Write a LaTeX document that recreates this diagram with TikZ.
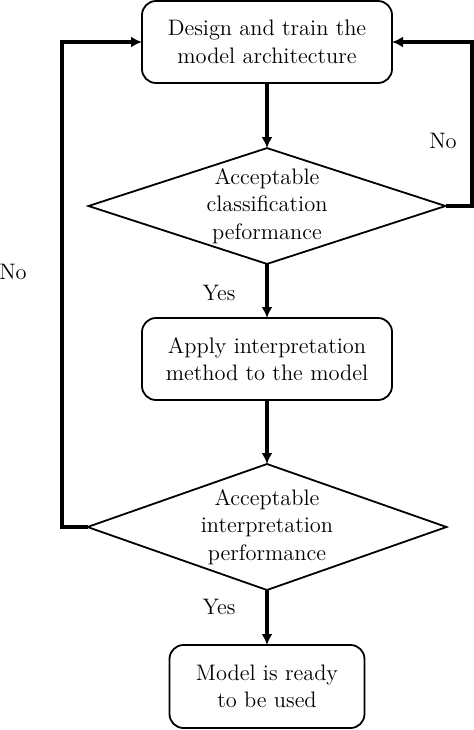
\documentclass[tikz,border=0pt]{standalone}
\usetikzlibrary{shapes.geometric,arrows.meta}
\begin{document}
\begin{tikzpicture}[x=0.5pt,y=-0.5pt,
  every node/.style={font=\fontsize{11.2}{13.8}\selectfont},
  procbox/.style={draw,line width=0.9pt,rounded corners=7pt,align=center,inner sep=0pt,outer sep=0pt,minimum width=125pt,minimum height=41pt},
  decide/.style={draw,diamond,line width=0.9pt,align=center,inner sep=0pt,outer sep=0pt,shape aspect=3},
  conn/.style={line width=1.6pt,-{Latex[length=5.5pt,width=5.5pt]}},
  lbl/.style={inner sep=0pt}]
\useasboundingbox (0,0) rectangle (474,730);
\node[procbox] (b1) at (267,42) {Design and train the\\model architecture};
\node[decide,minimum width=178.5pt,minimum height=56pt] (d1) at (267,206) {Acceptable\\classification\\peformance};
\node[procbox] (b2) at (267,359) {Apply interpretation\\method to the model};
\node[decide,minimum width=179.5pt,minimum height=63pt] (d2) at (267,527) {Acceptable\\interpretation\\performance};
\node[procbox,minimum width=97.5pt,minimum height=41.5pt] (b3) at (267,686.5) {Model is ready\\to be used};
\coordinate (r1) at (472,206);
\coordinate (r2) at (472,42);
\coordinate (l1) at (62,527);
\coordinate (l2) at (62,42);
\draw[conn] (b1.south) -- (d1.north);
\draw[conn] (d1.south) -- (b2.north);
\draw[conn] (b2.south) -- (d2.north);
\draw[conn] (d2.south) -- (b3.north);
\draw[conn] (d1.east) -- (r1) -- (r2) -- (b1.east);
\draw[conn] (d2.west) -- (l1) -- (l2) -- (b1.west);
\node[lbl] (no1) at (443,141) {No};
\node[lbl] (no2) at (13,272) {No};
\node[lbl] (yes1) at (219,293) {Yes};
\node[lbl] (yes2) at (219,607) {Yes};
\end{tikzpicture}
\end{document}
